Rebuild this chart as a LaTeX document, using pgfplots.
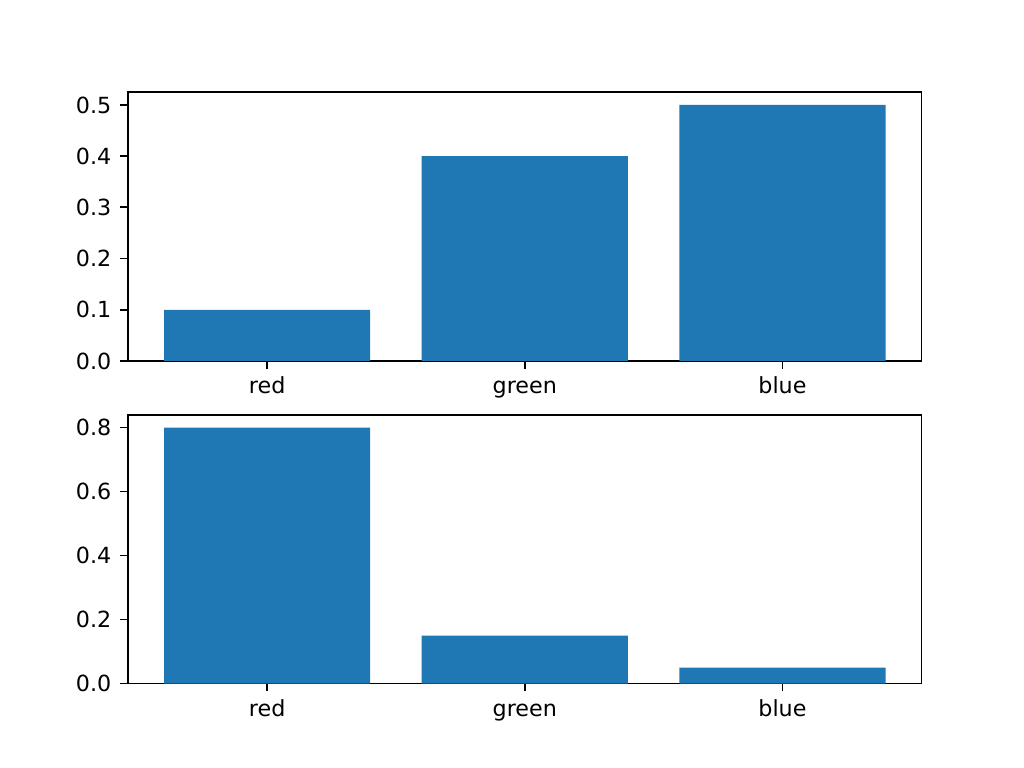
\documentclass[border=0pt]{standalone}
\usepackage{fontspec}
\setmainfont{DejaVu Sans}
\usepackage{pgfplots}
\pgfplotsset{compat=1.18}
\definecolor{tabblue}{HTML}{1F77B4}
\pgfplotsset{
  mybar/.style={
    scale only axis,
    width=357.12pt, height=120.96pt,
    anchor=south west,
    xmin=-0.54, xmax=2.54, ymin=0,
    xtick={0,1,2}, xticklabels={red,green,blue},
    tick pos=left, tick align=outside,
    major tick length=3.5pt,
    every tick/.style={black, line width=0.8pt},
    axis line style={line width=0.8pt},
    ybar, bar width=0.8,
    /pgf/number format/assume math mode=true,
    /pgf/number format/fixed, /pgf/number format/fixed zerofill,
    /pgf/number format/precision=1,
    tick label style={font=\fontsize{10}{12}\selectfont},
    xticklabel style={text height=7.3pt, text depth=2.3pt, yshift=-0.5pt},
    yticklabel style={xshift=-0.5pt},
    scaled y ticks=false,
  }
}
\begin{document}
\begin{tikzpicture}
\path[use as bounding box] (0,0) rectangle (460.8pt,345.6pt);
\begin{axis}[mybar, at={(57.6pt,183.168pt)}, ymax=0.525,
  ytick={0,0.1,0.2,0.3,0.4,0.5}]
\addplot[fill=tabblue, draw=none] coordinates {(0,0.1) (1,0.4) (2,0.5)};
\end{axis}
\begin{axis}[mybar, at={(57.6pt,38.016pt)}, ymax=0.84,
  ytick={0,0.2,0.4,0.6,0.8}]
\addplot[fill=tabblue, draw=none] coordinates {(0,0.8) (1,0.15) (2,0.05)};
\end{axis}
\end{tikzpicture}
\end{document}
